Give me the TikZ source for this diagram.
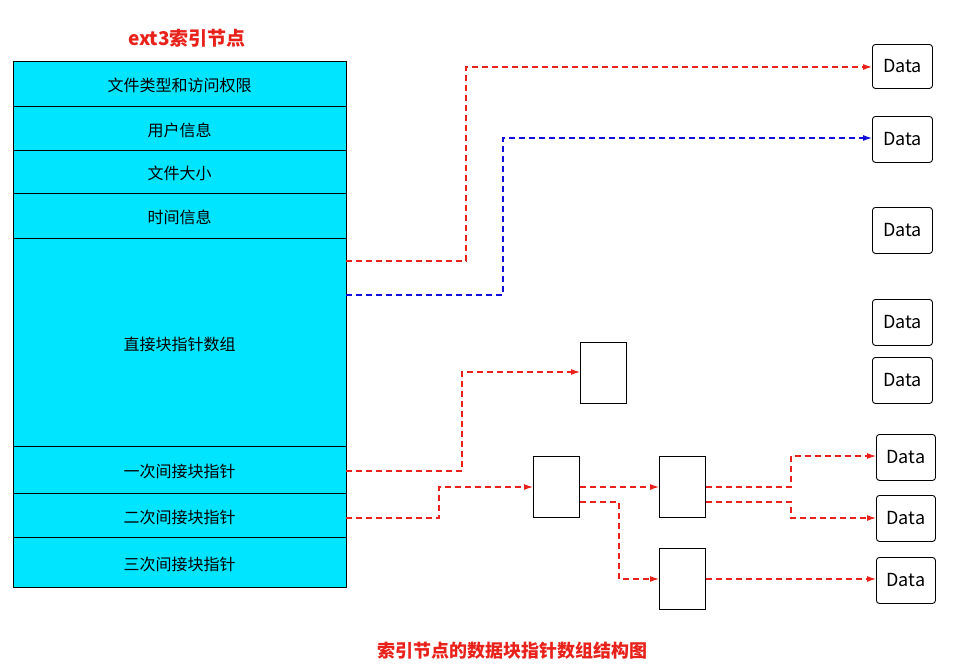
\documentclass[tikz,border=0pt]{standalone}
\usepackage{fontspec}
\setmainfont{Noto Sans CJK SC}
\usetikzlibrary{arrows.meta}
\definecolor{cellc}{HTML}{00E5FF}
\definecolor{redl}{HTML}{E8221A}
\definecolor{bluel}{HTML}{1010D8}
\begin{document}
\begin{tikzpicture}[x=1pt,y=-1pt,
  cell/.style={draw=black,fill=cellc,line width=0.9pt,font=\fontsize{16}{18}\selectfont},
  dbox/.style={draw=black,rounded corners=3pt,line width=0.9pt,fill=white,font=\fontsize{18}{20}\selectfont},
  sbox/.style={draw=black,line width=0.9pt,fill=white},
  rl/.style={draw=redl,line width=1.1pt,dash pattern=on 6pt off 4pt,-{Latex[length=9pt,width=6pt]}},
  bl/.style={rl,draw=bluel}]
\useasboundingbox (0,0) rectangle (976,665);
\foreach \t/\b/\n/\s in {61/106/c1/文件类型和访问权限,106/150/c2/用户信息,150/193/c3/文件大小,193/238/c4/时间信息,238/446/c5/直接块指针数组,446/493/c6/一次间接块指针,493/537/c7/二次间接块指针,537/587/c8/三次间接块指针}
  \path[cell] (13,\t) rectangle (346,\b) node[midway,yshift=-2pt,text=black] (\n) {\s};
\node[text=redl,font=\fontsize{19}{22}\selectfont\bfseries] (title) at (187,38) {ext3索引节点};
\node[text=redl,font=\fontsize{18}{21}\selectfont\bfseries] (cap) at (512,651) {索引节点的数据块指针数组结构图};
\foreach \x/\y/\w/\h/\n in {872/44/60/44/d1,872/116/60/46/d2,872/207/60/46/d3,872/299/60/46/d4,872/357/60/46/d5,876/434/59/46/d6,876/495/59/46/d7,876/557/59/46/d8}
  \node[dbox,minimum width=\w pt,minimum height=\h pt,anchor=north west] (\n) at (\x,\y) {Data};
\foreach \x/\y/\n in {580/342/a,533/456/b,659/456/c,659/548/d}
  \node[sbox,minimum width=46pt,minimum height=61pt,anchor=north west] (\n) at (\x,\y) {};
\coordinate (p1) at (346,261); \coordinate (p2) at (346,295);
\coordinate (p3) at (346,471); \coordinate (p4) at (346,518);
\draw[rl] (p1) -- (466,261) -- (466,67) -- (d1.west|-0,67);
\draw[bl] (p2) -- (503,295) -- (503,138) -- (d2.west|-0,138);
\draw[rl] (p3) -- (462,471) -- (462,372) -- (a.west|-0,372);
\draw[rl] (p4) -- (439,518) -- (439,487) -- (b.west|-0,487);
\draw[rl] (b.east|-0,487) -- (c.west|-0,487);
\draw[rl] (b.east|-0,502) -- (619,502) -- (619,579) -- (d.west|-0,579);
\draw[rl] (c.east|-0,487) -- (791,487) -- (791,456) -- (d6.west|-0,456);
\draw[rl] (c.east|-0,502) -- (791,502) -- (791,518) -- (d7.west|-0,518);
\draw[rl] (d.east|-0,579) -- (d8.west|-0,579);
\end{tikzpicture}
\end{document}
